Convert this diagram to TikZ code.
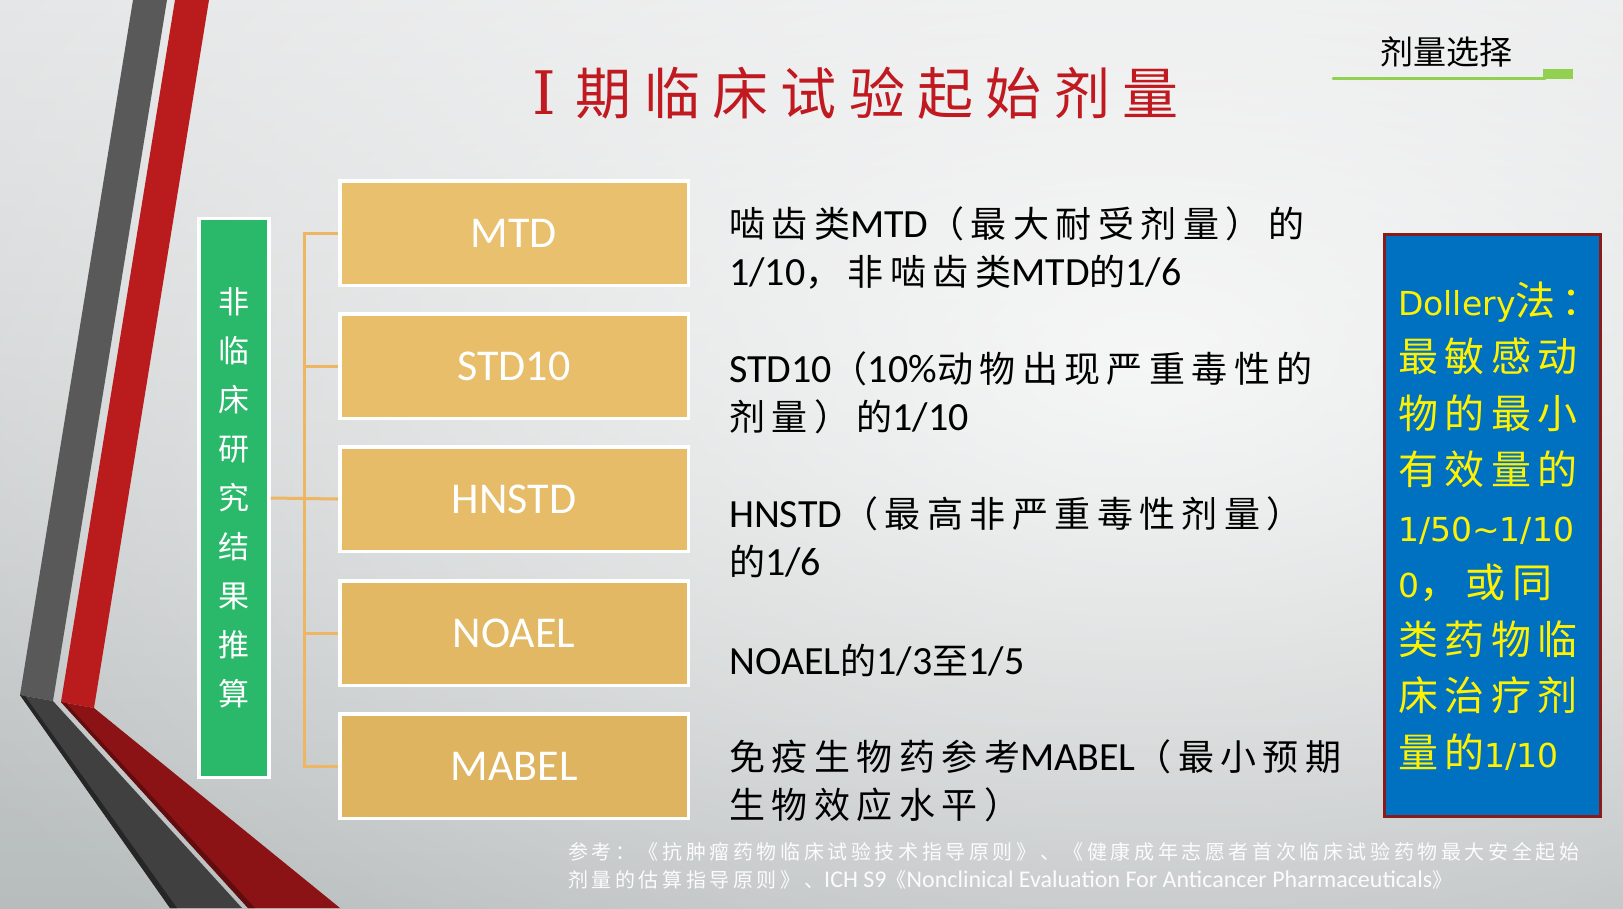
\documentclass[tikz,border=0pt]{standalone}
\usepackage{fontspec}
\setmainfont{Carlito}
\newfontfamily\zh{Noto Sans CJK SC}
\newfontfamily\zhA[LetterSpace=18]{Noto Sans CJK SC}
\newfontfamily\zhB[LetterSpace=16]{Noto Sans CJK SC}
\newfontfamily\zhC[LetterSpace=18]{Noto Sans CJK SC}
\newfontfamily\zhT[LetterSpace=22]{Noto Sans CJK SC}
\newfontfamily\tser{DejaVu Serif}
\newfontfamily\lat{Carlito}
\newfontfamily\dv{DejaVu Sans}
\newcommand\zs[1]{{\zhA\fontsize{36}{48}\selectfont #1}}
\newcommand\dl[1]{{\dv\fontsize{33}{40}\selectfont #1}}
\newcommand\fl[1]{{\fontsize{24}{28}\selectfont #1}}
\usetikzlibrary{fadings}
\definecolor{bgtop}{HTML}{E4E5E6}
\definecolor{bgbot}{HTML}{B7BCBC}
\definecolor{bandgray}{HTML}{595959}
\definecolor{bandgrayd}{HTML}{404040}
\definecolor{bandred}{HTML}{BA1B1D}
\definecolor{bandredd}{HTML}{8B1315}
\definecolor{titlered}{HTML}{C0191F}
\definecolor{srcgreen}{HTML}{2AB86A}
\definecolor{connc}{HTML}{EEB563}
\definecolor{boxA}{HTML}{E9C06D}
\definecolor{boxB}{HTML}{E8BE6B}
\definecolor{boxC}{HTML}{E6BC68}
\definecolor{boxD}{HTML}{E3B864}
\definecolor{boxE}{HTML}{DFB460}
\definecolor{blueF}{HTML}{0070C0}
\definecolor{bluebd}{HTML}{8B1A1A}
\definecolor{selgreen}{HTML}{92D050}
\definecolor{foot}{HTML}{FCFCFC}
\tikzfading[name=glow, inner color=transparent!0, outer color=transparent!100]
\tikzset{
  gbox/.style={draw=white, line width=3.5pt, minimum width=348.5pt, minimum height=104.5pt,
    inner sep=0pt, text=white, font=\lat\fontsize{44}{50}\selectfont},
  conn/.style={draw=connc, line width=3pt},
  desc/.style={anchor=west, align=left, inner sep=0pt, text=black,
    font=\fontsize{40}{48}\selectfont},
}
\begin{document}
\begin{tikzpicture}[x=1pt,y=-1pt]
\useasboundingbox (0,0) rectangle (1623,908);
% background
\fill[top color=bgtop, bottom color=bgbot] (0,0) rectangle (1623,908);
\begin{scope}
\clip (0,0) rectangle (1623,908);
\fill[white, path fading=glow, fill opacity=0.8] (1150,360) ellipse [x radius=1400, y radius=800];
\end{scope}
% decorative bands
\fill[bandgray] (133,0) -- (167,0) -- (53,701) -- (20,695) -- cycle;
\fill[bandred] (175,0) -- (209,0) -- (94,708) -- (61,702) -- cycle;
\fill[bandgrayd] (20,695) -- (53,701) -- (242,908) -- (170,908) -- cycle;
\fill[black!85] (20,695) -- (25,696) -- (177,908) -- (170,908) -- cycle;
\fill[bandredd] (61,702) -- (94,708) -- (340,908) -- (248,908) -- cycle;
\fill[bandredd!70!black] (61,702) -- (66,703) -- (255,908) -- (248,908) -- cycle;
% title
\node[anchor=west, inner sep=0pt, text=titlered, font=\zhT\fontsize{56}{60}\selectfont] (title) at (532,93)
  {{\tser\fontsize{60}{60}\selectfont Ⅰ}\hspace{20pt}期临床试验起始剂量};
% top right label
\node[font=\zh\fontsize{33}{36}\selectfont] (sel) at (1446,52) {剂量选择};
\draw[selgreen, line width=3pt, line cap=round] (1333,78) -- (1545,78);
\fill[selgreen] (1543,69) rectangle (1573,79);
% source box
\node[draw=white, line width=3.5pt, fill=srcgreen, minimum width=70pt, minimum height=559pt,
  inner sep=0pt, text=white, align=center, font=\zh\fontsize{31}{49}\selectfont]
  (src) at (234,498) {非\\临\\床\\研\\究\\结\\果\\推\\算};
% method boxes
\node[gbox, fill=boxA] (b1) at (514,233) {MTD};
\node[gbox, fill=boxB] (b2) at (514,366) {STD10};
\node[gbox, fill=boxC] (b3) at (514,499) {HNSTD};
\node[gbox, fill=boxD] (b4) at (514,633) {NOAEL};
\node[gbox, fill=boxE] (b5) at (514,766) {MABEL};
% connectors
\coordinate (trunk) at (304.5,0);
\draw[conn] (src.east) -- (b3.west);
\draw[conn] (b1.west) -- (b1.west -| trunk) -- (b5.west -| trunk) -- (b5.west);
\draw[conn] (b2.west -| trunk) -- (b2.west);
\draw[conn] (b4.west -| trunk) -- (b4.west);
% descriptions
\node[desc] (d1) at (729,248) {\zs{啮齿类}MTD\zs{（最大耐受剂量）的}\\1/10\zs{，非啮齿类}MTD\zs{的}1/6};
\node[desc] (d2) at (729,393) {STD10\zs{（}10\%\zs{动物出现严重毒性的}\\\zs{剂量）的}1/10};
\node[desc] (d3) at (729,537) {HNSTD\zs{（最高非严重毒性剂量）}\\\zs{的}1/6};
\node[desc] (d4) at (729,660) {NOAEL\zs{的}1/3\zs{至}1/5};
\node[desc] (d5) at (729,781) {\zs{免疫生物药参考}MABEL\zs{（最小预期}\\\zs{生物效应水平）}};
% Dollery box
\node[draw=bluebd, line width=3pt, fill=blueF, minimum width=216pt, minimum height=582pt,
  inner sep=0pt] (dol) at (1492.5,525.5) {};
\node[anchor=west, align=left, inner sep=0pt, text=yellow, font=\zhB\fontsize{40}{56.5}\selectfont]
  (doltxt) at (1398,526) {\dl{Dollery}法：\\最敏感动\\物的最小\\有效量的\\\dl{1/50\textasciitilde1/10}\\\dl{0}，或同\\类药物临\\床治疗剂\\量的\dl{1/10}};
% footnote
\node[anchor=west, align=left, inner sep=0pt, text=foot, font=\zhC\fontsize{20}{28}\selectfont]
  (ref) at (568,866) {参考：《抗肿瘤药物临床试验技术指导原则》、《健康成年志愿者首次临床试验药物最大安全起始\\剂量的估算指导原则》、\fl{\lat ICH S9}《\fl{\lat Nonclinical Evaluation For Anticancer Pharmaceuticals}》};
\end{tikzpicture}
\end{document}
